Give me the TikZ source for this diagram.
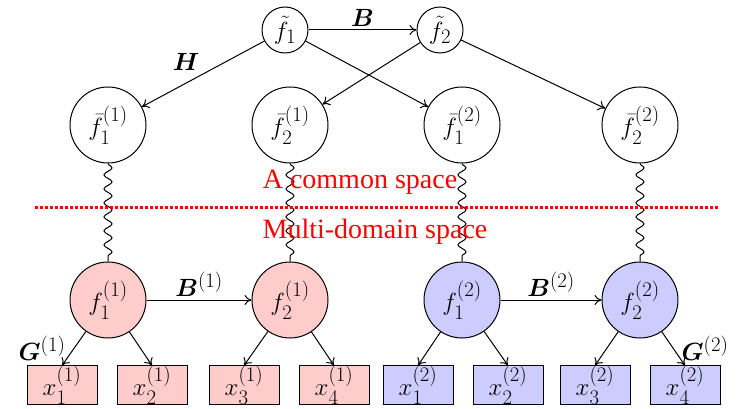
\documentclass[tikz,border=0pt]{standalone}
\usepackage{amsmath,bm}
\usepackage{fontspec}
\setmainfont{Liberation Serif}
\usetikzlibrary{decorations.pathmorphing,arrows.meta}
\begin{document}
\begin{tikzpicture}[x=1pt,y=-1pt,line width=1pt,
  every node/.style={font=\fontsize{28}{32}\selectfont},
  sm/.style={circle,draw,minimum size=46pt,inner sep=0pt},
  bg/.style={circle,draw,minimum size=76pt,inner sep=0pt},
  rfill/.style={fill=red!20},
  bfill/.style={fill=blue!20},
  bx/.style={draw,minimum width=70pt,minimum height=38pt,inner sep=0pt},
  ar/.style={-{To[length=7pt,width=10pt]}},
  wv/.style={decorate,decoration={snake,amplitude=4pt,segment length=14pt}}]
\useasboundingbox (0,0) rectangle (750,409);
\node[sm] (t1) at (285,30) {$\tilde f_1$};
\node[sm] (t2) at (440,30) {$\tilde f_2$};
\node[bg] (m1) at (108,125) {$\bar f_1^{(1)}$};
\node[bg] (m2) at (290,125) {$\bar f_2^{(1)}$};
\node[bg] (m3) at (462,125) {$\bar f_1^{(2)}$};
\node[bg] (m4) at (640,125) {$\bar f_2^{(2)}$};
\node[bg,rfill] (b1) at (108,300) {$f_1^{(1)}$};
\node[bg,rfill] (b2) at (290,300) {$f_2^{(1)}$};
\node[bg,bfill] (b3) at (462,300) {$f_1^{(2)}$};
\node[bg,bfill] (b4) at (640,300) {$f_2^{(2)}$};
\node[bx,rfill] (x1) at (62,385) {$x_1^{(1)}$};
\node[bx,rfill] (x2) at (152,385) {$x_2^{(1)}$};
\node[bx,rfill] (x3) at (244,385) {$x_3^{(1)}$};
\node[bx,rfill] (x4) at (334,385) {$x_4^{(1)}$};
\node[bx,bfill] (y1) at (418,385) {$x_1^{(2)}$};
\node[bx,bfill] (y2) at (508,385) {$x_2^{(2)}$};
\node[bx,bfill] (y3) at (595,385) {$x_3^{(2)}$};
\node[bx,bfill] (y4) at (685,385) {$x_4^{(2)}$};
\coordinate (d1) at (35,207); \coordinate (d2) at (718,207);
\foreach \a/\b in {m1/b1,m2/b2,m3/b3,m4/b4} \draw[wv] (\a) -- (\b);
\draw[red,dotted,line width=3pt] (d1) -- (d2);
\node[text=red] (c1) at (360,182) {A common space};
\node[text=red] (c2) at (375,232) {Multi-domain space};
\draw[ar] (t1) -- node[above] {$\bm{B}$} (t2);
\draw[ar] (t1) -- node[above left,pos=0.5] {$\bm{H}$} (m1);
\draw[ar] (t1) -- (m3);
\draw[ar] (t2) -- (m2);
\draw[ar] (t2) -- (m4);
\draw[ar] (b1) -- node[above] {$\bm{B}^{(1)}$} (b2);
\draw[ar] (b3) -- node[above] {$\bm{B}^{(2)}$} (b4);
\foreach \a/\b in {b1/x1,b1/x2,b2/x3,b2/x4,b3/y1,b3/y2,b4/y3,b4/y4} \draw[ar] (\a) -- (\b.north);
\node (g1) at (42,348) {$\bm{G}^{(1)}$};
\node (g2) at (705,348) {$\bm{G}^{(2)}$};
\end{tikzpicture}
\end{document}
